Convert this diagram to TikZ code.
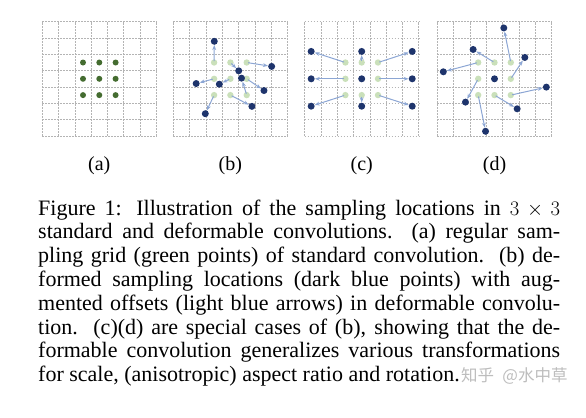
\documentclass[tikz,border=0pt]{standalone}
\usepackage{fontspec}
\setmainfont{Liberation Serif}
\newfontfamily\cjkfont{Noto Sans CJK SC}
\usetikzlibrary{arrows.meta}

\definecolor{gridgray}{RGB}{180,180,180}
\definecolor{reggreen}{RGB}{68,108,48}
\definecolor{lightgreen}{RGB}{202,224,186}
\definecolor{darkblue}{RGB}{30,52,108}
\definecolor{offblue}{RGB}{140,166,212}

\tikzset{
  gridline/.style={draw=gridgray, line width=0.55bp, dash pattern=on 1.5bp off 1.5bp},
  regpt/.style={circle, fill=reggreen, inner sep=0pt, minimum size=6bp},
  basept/.style={circle, fill=lightgreen, inner sep=0pt, minimum size=6.4bp},
  movedpt/.style={circle, fill=darkblue, inner sep=0pt, minimum size=7bp},
  offset/.style={draw=offblue, line width=1bp, -{Stealth[length=5bp,width=3.8bp]}, shorten <=-2bp},
  sublabel/.style={anchor=base, inner sep=0pt, font=\fontsize{20bp}{24bp}\selectfont},
}

\begin{document}
\begin{tikzpicture}[x=1bp, y=-1bp]
\useasboundingbox (0,0) rectangle (586,417);

% (a) regular grid
\begin{scope}[shift={(99.3,78.8)}, x=16.3bp, y=16.3bp]
\draw[gridline, shift={(-3.5,-3.5)}, step=1] (0,0) grid (7,7);
\node[regpt] (a1) at (-1, 1) {};
\node[regpt] (a2) at ( 0, 1) {};
\node[regpt] (a3) at ( 1, 1) {};
\node[regpt] (a4) at (-1, 0) {};
\node[regpt] (a5) at ( 0, 0) {};
\node[regpt] (a6) at ( 1, 0) {};
\node[regpt] (a7) at (-1,-1) {};
\node[regpt] (a8) at ( 0,-1) {};
\node[regpt] (a9) at ( 1,-1) {};
\end{scope}

% (b) deformed
\begin{scope}[shift={(230.4,78.8)}, x=16.3bp, y=16.3bp]
\draw[gridline, shift={(-3.5,-3.5)}, step=1] (0,0) grid (7,7);
\node[basept] (bg1) at (-1, 1) {};
\node[basept] (bg2) at ( 0, 1) {};
\node[basept] (bg3) at ( 1, 1) {};
\node[basept] (bg4) at (-1, 0) {};
\node[basept] (bg5) at ( 0, 0) {};
\node[basept] (bg6) at ( 1, 0) {};
\node[basept] (bg7) at (-1,-1) {};
\node[basept] (bg8) at ( 0,-1) {};
\node[basept] (bg9) at ( 1,-1) {};
\node[movedpt] (bd1) at (-0.99, 2.30) {};
\node[movedpt] (bd2) at ( 0.51, 0.49) {};
\node[movedpt] (bd3) at ( 2.53, 0.76) {};
\node[movedpt] (bd4) at (-2.10,-0.29) {};
\node[movedpt] (bd5) at (-0.68,-0.33) {};
\node[movedpt] (bd6) at ( 2.06,-0.72) {};
\node[movedpt] (bd7) at (-1.54,-2.14) {};
\node[movedpt] (bd8) at ( 1.32,-1.69) {};
\node[movedpt] (bd9) at ( 0.68, 0.04) {};
\draw[offset] (bg1) -- (bd1);
\draw[offset] (bg2) -- (bd2);
\draw[offset] (bg3) -- (bd3);
\draw[offset] (bg4) -- (bd4);
\draw[offset] (bg5) -- (bd5);
\draw[offset] (bg6) -- (bd6);
\draw[offset] (bg7) -- (bd7);
\draw[offset] (bg8) -- (bd8);
\draw[offset] (bg9) -- (bd9);
\end{scope}

% (c) scale / aspect ratio
\begin{scope}[shift={(361.7,78.8)}, x=16.3bp, y=16.3bp]
\draw[gridline, shift={(-3.5,-3.5)}, step=1] (0,0) grid (7,7);
\node[basept] (cg1) at (-1, 1) {};
\node[basept] (cg2) at ( 0, 1) {};
\node[basept] (cg3) at ( 1, 1) {};
\node[basept] (cg4) at (-1, 0) {};
\node[basept] (cg6) at ( 1, 0) {};
\node[basept] (cg7) at (-1,-1) {};
\node[basept] (cg8) at ( 0,-1) {};
\node[basept] (cg9) at ( 1,-1) {};
\node[movedpt] (cd1) at (-3.1, 1.68) {};
\node[movedpt] (cd2) at ( 0.0, 1.68) {};
\node[movedpt] (cd3) at ( 3.1, 1.68) {};
\node[movedpt] (cd4) at (-3.1, 0.0) {};
\node[movedpt] (cd5) at ( 0.0, 0.0) {};
\node[movedpt] (cd6) at ( 3.1, 0.0) {};
\node[movedpt] (cd7) at (-3.1,-1.68) {};
\node[movedpt] (cd8) at ( 0.0,-1.68) {};
\node[movedpt] (cd9) at ( 3.1,-1.68) {};
\draw[offset] (cg1) -- (cd1);
\draw[offset] (cg2) -- (cd2);
\draw[offset] (cg3) -- (cd3);
\draw[offset] (cg4) -- (cd4);
\draw[offset] (cg6) -- (cd6);
\draw[offset] (cg7) -- (cd7);
\draw[offset] (cg8) -- (cd8);
\draw[offset] (cg9) -- (cd9);
\end{scope}

% (d) rotation
\begin{scope}[shift={(494.5,78.8)}, x=16.3bp, y=16.3bp]
\draw[gridline, shift={(-3.5,-3.5)}, step=1] (0,0) grid (7,7);
\node[basept] (dg1) at (-1, 1) {};
\node[basept] (dg2) at ( 0, 1) {};
\node[basept] (dg3) at ( 1, 1) {};
\node[basept] (dg4) at (-1, 0) {};
\node[basept] (dg6) at ( 1, 0) {};
\node[basept] (dg7) at (-1,-1) {};
\node[basept] (dg8) at ( 0,-1) {};
\node[basept] (dg9) at ( 1,-1) {};
\node[movedpt] (dd1) at (-3.14, 0.43) {};
\node[movedpt] (dd2) at (-1.31, 1.80) {};
\node[movedpt] (dd3) at ( 0.57, 3.12) {};
\node[movedpt] (dd4) at (-1.78,-1.43) {};
\node[movedpt] (dd5) at ( 0.00, 0.00) {};
\node[movedpt] (dd6) at ( 1.86, 1.31) {};
\node[movedpt] (dd7) at (-0.55,-3.22) {};
\node[movedpt] (dd8) at ( 1.39,-1.84) {};
\node[movedpt] (dd9) at ( 3.18,-0.51) {};
\draw[offset] (dg1) -- (dd1);
\draw[offset] (dg2) -- (dd2);
\draw[offset] (dg3) -- (dd3);
\draw[offset] (dg4) -- (dd4);
\draw[offset] (dg6) -- (dd6);
\draw[offset] (dg7) -- (dd7);
\draw[offset] (dg8) -- (dd8);
\draw[offset] (dg9) -- (dd9);
\end{scope}

\node[sublabel] (alabel) at (99.3,170) {(a)};
\node[sublabel] (blabel) at (230.4,170) {(b)};
\node[sublabel] (clabel) at (361.7,170) {(c)};
\node[sublabel] (dlabel) at (494.5,170) {(d)};

% caption
\node[anchor=base west, inner sep=0pt, text width=522bp, align=justify,
      font=\fontsize{22bp}{23.8bp}\selectfont] (caption) at (38,215)
{Figure 1: Illustration of the sampling locations in $3\times3$\linebreak
standard and deformable convolutions.\ \ (a) regular sam-\linebreak
pling grid (green points) of standard convolution.\ \ (b) de-\linebreak
formed sampling locations (dark blue points) with aug-\linebreak
mented offsets (light blue arrows) in deformable convolu-\linebreak
tion.\ \ (c)(d) are special cases of (b), showing that the de-\linebreak
formable convolution generalizes various transformations\linebreak
for scale, (anisotropic) aspect ratio and rotation.};
\node[anchor=base west, inner sep=0pt, text=black!26,
      font=\cjkfont\fontsize{16.5bp}{16.5bp}\selectfont] (mark) at (461,381.6) {知乎\hspace{0.5em}@水中草};

\end{tikzpicture}
\end{document}
